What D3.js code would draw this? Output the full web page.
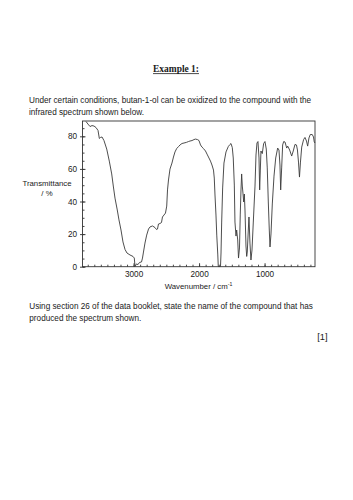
<!DOCTYPE html>
<html>
<head>
<meta charset="utf-8">
<script src="https://cdn.jsdelivr.net/npm/d3@7"></script>
<style>
  html, body { margin: 0; padding: 0; background: #fff; }
  svg { display: block; }
</style>
</head>
<body>
<svg id="page" width="353" height="500"></svg>
<script>
// Infrared spectrum: wavenumber (cm^-1) against transmittance (%)
const wavenumber = [
  3727, 3696, 3665, 3635, 3604, 3574, 3543, 3523, 3505, 3482,
  3452, 3410, 3371, 3334, 3310, 3284, 3249, 3223, 3192, 3162,
  3131, 3101, 3055, 3009, 2989, 2978, 2956, 2933, 2910, 2879,
  2864, 2849, 2826, 2800, 2772, 2749, 2711, 2673, 2650, 2635,
  2620, 2597, 2574, 2559, 2536, 2513, 2494, 2482, 2467, 2444,
  2414, 2391, 2368, 2342, 2314, 2291, 2261, 2230, 2192, 2162,
  2139, 2108, 2078, 2055, 2024, 2001, 1978, 1956, 1933, 1902,
  1879, 1849, 1826, 1803, 1780, 1768, 1757, 1742, 1730, 1714,
  1707, 1673, 1665, 1655, 1640, 1620, 1589, 1554, 1528, 1513,
  1493, 1478, 1462, 1452, 1436, 1426, 1410, 1398, 1383, 1371,
  1360, 1350, 1340, 1330, 1319, 1309, 1299, 1284, 1273, 1264,
  1249, 1238, 1223, 1208, 1192, 1172, 1146, 1131, 1116, 1101,
  1085, 1075, 1065, 1055, 1035, 1014, 994, 974, 959, 943,
  928, 917, 902, 882, 856, 830, 800, 780, 765, 754,
  739, 724, 708, 688, 662, 647, 617, 586, 562, 536,
  513, 498, 482, 467, 452, 433, 404, 383, 360, 342,
  322, 302, 272, 253, 241, 230
];
const transmittance = [
  89.1, 87.5, 86.0, 86.6, 86.3, 85.4, 83.6, 78.7, 79.3, 79.6,
  77.4, 72.2, 64.8, 56.9, 49.5, 42.1, 34.8, 28.7, 22.5, 15.2,
  10.6, 8.4, 7.2, 6.3, 5.3, 0.1, 1.7, 1.3, 2.6, 2.9,
  5.3, 9.0, 14.5, 19.4, 23.1, 24.4, 25.0, 24.0, 22.8, 23.1,
  26.2, 26.5, 27.1, 30.5, 31.7, 32.9, 37.2, 47.1, 53.2, 59.9,
  63.6, 67.3, 70.4, 72.5, 73.7, 74.7, 75.6, 75.9, 76.3, 76.8,
  77.1, 77.4, 78.0, 78.3, 78.0, 77.4, 74.7, 73.4, 72.5, 71.0,
  69.1, 66.7, 64.8, 62.4, 59.3, 54.4, 44.0, 31.7, 19.4, 7.2,
  0.1, 0.1, 8.4, 27.4, 48.3, 63.6, 70.4, 73.7, 75.0, 75.6,
  73.1, 66.7, 50.1, 27.4, 18.8, 22.5, 16.4, 5.3, 11.5, 32.3,
  47.1, 56.9, 49.5, 45.2, 39.7, 44.6, 34.8, 12.7, 6.3, 9.0,
  21.9, 30.5, 14.5, 4.1, 10.2, 27.4, 49.5, 68.5, 75.9, 76.8,
  66.7, 47.1, 59.3, 71.0, 69.4, 75.6, 76.8, 72.2, 60.6, 39.7,
  22.5, 12.1, 20.1, 38.5, 55.6, 66.7, 72.8, 71.6, 62.4, 47.1,
  60.6, 74.7, 76.8, 76.5, 72.8, 74.0, 71.6, 67.9, 71.0, 75.0,
  74.7, 71.6, 64.2, 55.0, 64.2, 73.4, 78.0, 79.3, 77.1, 74.0,
  79.0, 81.1, 81.1, 79.6, 76.5, 75.9
];

// Axis settings
const xDomain = [3780, 230];
const yDomain = [0, 89.4];
const xMajorTicks = [3000, 2000, 1000];
const xMinorTicks = d3.range(3700, 299, -100);
const yMajorTicks = [0, 20, 40, 60, 80];
const yMinorTicks = d3.range(0, 89, 5);

// Page text
const heading = "Example 1:";
const introLines = [
  "Under certain conditions, butan-1-ol can be oxidized to the compound with the",
  "infrared spectrum shown below."
];
const questionLines = [
  "Using section 26 of the data booklet, state the name of the compound that has",
  "produced the spectrum shown."
];
const marks = "[1]";
const yTitle = ["Transmittance", "/ %"];

const svg = d3.select("#page");
const sans = "'Liberation Sans', Arial, sans-serif";
const serif = "'Liberation Serif', 'Times New Roman', serif";
const ink = "#1a1a1a";

// fit a line of text to a given width by adjusting its font size
function fitText(sel, width) {
  const w = sel.node().getComputedTextLength();
  const fs = parseFloat(sel.attr("font-size"));
  sel.attr("font-size", (fs * width / w).toFixed(2));
}

// Heading
const h = svg.append("text")
  .attr("x", 176).attr("y", 72)
  .attr("text-anchor", "middle")
  .attr("font-family", serif).attr("font-weight", "bold")
  .attr("font-size", 11).attr("fill", ink)
  .text(heading);
fitText(h, 46);
const hb = h.node().getBBox();
svg.append("line")
  .attr("x1", hb.x).attr("x2", hb.x + hb.width)
  .attr("y1", 73.6).attr("y2", 73.6)
  .attr("stroke", ink).attr("stroke-width", 0.8);

// Paragraphs
function paragraph(lines, x, y0, lh, firstWidth) {
  const g = svg.append("g");
  const t = lines.map((s, i) => g.append("text")
    .attr("x", x).attr("y", y0 + i * lh)
    .attr("font-family", sans).attr("font-size", 10).attr("fill", ink)
    .text(s));
  fitText(t[0], firstWidth);
  const fs = t[0].attr("font-size");
  t.slice(1).forEach(s => s.attr("font-size", fs));
}
paragraph(introLines, 29, 102.5, 12.5, 282.5);
paragraph(questionLines, 29.3, 308.5, 12.5, 284);

svg.append("text")
  .attr("x", 327.5).attr("y", 340).attr("text-anchor", "end")
  .attr("font-family", sans).attr("font-size", 9.3).attr("fill", ink)
  .text(marks);

// Spectrum plot
const plot = { left: 82.5, right: 315, top: 121, bottom: 266.7 };
const x = d3.scaleLinear().domain(xDomain).range([plot.left, plot.right]);
const y = d3.scaleLinear().domain(yDomain).range([plot.bottom, plot.top]);

const axisColor = "#333";
const tickFont = 8.2;

// frame
svg.append("rect")
  .attr("x", plot.left).attr("y", plot.top)
  .attr("width", plot.right - plot.left).attr("height", plot.bottom - plot.top)
  .attr("fill", "none").attr("stroke", axisColor).attr("stroke-width", 0.9);

// bottom axis: inward ticks
const gxMinor = svg.append("g")
  .attr("transform", `translate(0,${plot.bottom})`)
  .call(d3.axisBottom(x).tickValues(xMinorTicks).tickSize(-2).tickFormat(""));
const gxMajor = svg.append("g")
  .attr("transform", `translate(0,${plot.bottom})`)
  .call(d3.axisBottom(x).tickValues(xMajorTicks).tickSize(-3.5).tickPadding(4).tickFormat(d3.format("d")));

// left axis: inward minor ticks, crossing major ticks
const gyMinor = svg.append("g")
  .attr("transform", `translate(${plot.left},0)`)
  .call(d3.axisLeft(y).tickValues(yMinorTicks).tickSize(-2).tickFormat(""));
const gyMajor = svg.append("g")
  .attr("transform", `translate(${plot.left},0)`)
  .call(d3.axisLeft(y).tickValues(yMajorTicks).tickSize(2.5).tickPadding(3).tickFormat(d3.format("d")));
gyMajor.selectAll(".tick").append("line")
  .attr("x2", 3).attr("stroke", axisColor).attr("stroke-width", 0.9);

[gxMinor, gxMajor, gyMinor, gyMajor].forEach(g => {
  g.select(".domain").remove();
  g.selectAll("line").attr("stroke", axisColor).attr("stroke-width", 0.9);
  g.selectAll("text").attr("font-family", sans).attr("font-size", tickFont).attr("fill", ink);
});

// axis titles
const yt = svg.append("text")
  .attr("text-anchor", "middle")
  .attr("font-family", sans).attr("font-size", 7.8).attr("fill", "#222");
yt.append("tspan").attr("x", 47).attr("y", 185.5).text(yTitle[0]);
yt.append("tspan").attr("x", 47).attr("y", 195.5).text(yTitle[1]);

const xt = svg.append("text")
  .attr("x", 198.5).attr("y", 289)
  .attr("text-anchor", "middle")
  .attr("font-family", sans).attr("font-size", 7.8).attr("fill", "#222");
xt.append("tspan").text("Wavenumber / cm");
xt.append("tspan").attr("font-size", 5.2).attr("dy", -3).text("-1");

// spectrum trace
const spectrum = wavenumber.map((w, i) => ({ w, t: transmittance[i] }));
const line = d3.line().x(d => x(d.w)).y(d => y(d.t));
svg.append("path")
  .datum(spectrum)
  .attr("d", line)
  .attr("fill", "none")
  .attr("stroke", "#3a3a3a")
  .attr("stroke-width", 0.9)
  .attr("stroke-linejoin", "round");
</script>
</body>
</html>
